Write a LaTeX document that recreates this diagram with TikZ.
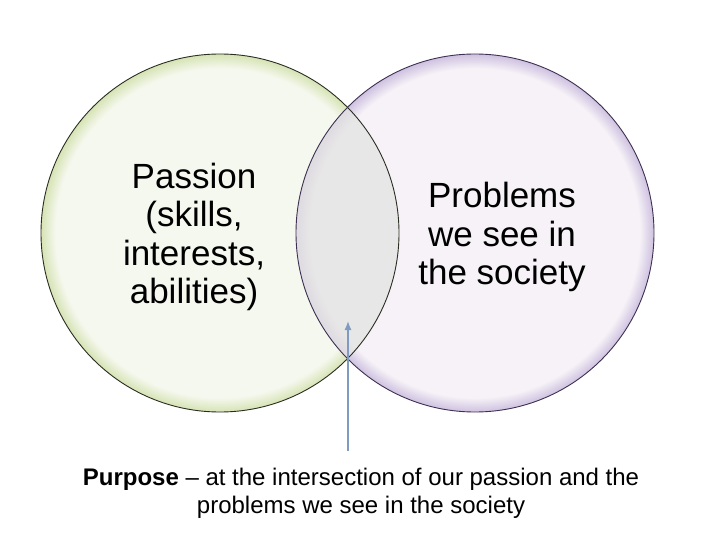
\documentclass[tikz,border=0pt]{standalone}
\usepackage{fontspec}
\setmainfont{Liberation Sans}
\usetikzlibrary{arrows.meta}
\definecolor{passioninner}{HTML}{F5F8EE}
\definecolor{passionrim}{HTML}{D6E3B4}
\definecolor{passionedge}{HTML}{2A2E22}
\definecolor{probleminner}{HTML}{F6F2F7}
\definecolor{problemrim}{HTML}{CEC1E0}
\definecolor{problemedge}{HTML}{3E3052}
\definecolor{overlapfill}{HTML}{E4E4E2}
\definecolor{arrowblue}{HTML}{7F9CC0}
\pgfdeclareradialshading{passionshade}{\pgfpoint{0bp}{0bp}}{color(0bp)=(passioninner); color(23bp)=(passioninner); color(25bp)=(passionrim); color(50bp)=(passionrim)}
\pgfdeclareradialshading{problemshade}{\pgfpoint{0bp}{0bp}}{color(0bp)=(probleminner); color(23bp)=(probleminner); color(25bp)=(problemrim); color(50bp)=(problemrim)}
\begin{document}
\begin{tikzpicture}[x=1pt,y=-1pt,
  bigtext/.style={font=\fontsize{35}{38.5}\selectfont,align=center},
  captext/.style={font=\fontsize{24}{28}\selectfont,align=center}]
  \useasboundingbox (0,0) rectangle (720,540);

  % the two circles
  \shade[shading=passionshade] (220,233) circle (179);
  \shade[shading=problemshade] (475,233) circle (179);
  \begin{scope}
    \clip (220,233) circle (179);
    \fill[overlapfill,opacity=.75] (475,233) circle (179);
  \end{scope}
  \draw[passionedge,line width=.9pt] (220,233) circle (179);
  \draw[problemedge,line width=.9pt] (475,233) circle (179);

  \node[bigtext] (passion) at (194,237) {Passion\\(skills,\\interests,\\abilities)};
  \node[bigtext] (problems) at (502,237) {Problems\\we see in\\the society};

  % caption and arrow
  \node[captext] (purpose) at (361,493) {\textbf{Purpose} -- at the intersection of our passion and the\\problems we see in the society};
  \coordinate (tip) at (348,321);
  \draw[arrowblue,line width=1.3pt,-{Latex[length=9pt,width=7pt]}] (348,451) -- (tip);
\end{tikzpicture}
\end{document}
